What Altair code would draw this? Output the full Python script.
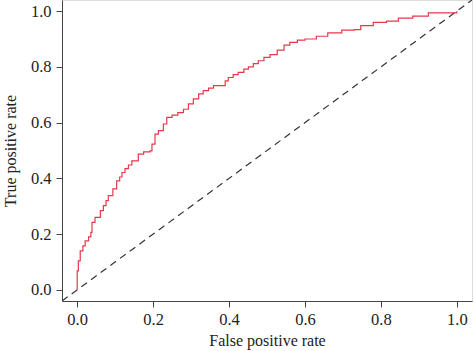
import altair as alt
import pandas as pd

fpr = [0.000, 0.000, 0.003, 0.008, 0.015, 0.021, 0.030, 0.036, 0.039, 0.047,
       0.061, 0.069, 0.076, 0.082, 0.094, 0.104, 0.112, 0.118, 0.126, 0.135,
       0.144, 0.161, 0.175, 0.192, 0.197, 0.205, 0.214, 0.227, 0.236, 0.250,
       0.265, 0.280, 0.293, 0.306, 0.320, 0.332, 0.346, 0.359, 0.381, 0.390,
       0.398, 0.411, 0.424, 0.439, 0.451, 0.464, 0.477, 0.492, 0.508, 0.527,
       0.545, 0.560, 0.580, 0.600, 0.630, 0.660, 0.697, 0.730, 0.747, 0.780,
       0.815, 0.846, 0.884, 0.925, 0.997, 1.000]
tpr = [0.000, 0.068, 0.104, 0.140, 0.158, 0.176, 0.190, 0.206, 0.242, 0.260,
       0.284, 0.302, 0.320, 0.338, 0.362, 0.391, 0.405, 0.421, 0.435, 0.448,
       0.463, 0.487, 0.495, 0.499, 0.523, 0.559, 0.571, 0.595, 0.619, 0.627,
       0.636, 0.648, 0.667, 0.685, 0.703, 0.715, 0.724, 0.733, 0.733, 0.750,
       0.762, 0.772, 0.780, 0.792, 0.800, 0.812, 0.822, 0.834, 0.844, 0.860,
       0.878, 0.888, 0.896, 0.900, 0.910, 0.922, 0.932, 0.934, 0.948, 0.960,
       0.964, 0.975, 0.982, 0.994, 0.994, 1.000]
diag = [-0.04, 1.04]
ticks = [0.0, 0.2, 0.4, 0.6, 0.8, 1.0]

roc = pd.DataFrame({"fpr": fpr, "tpr": tpr})
ddf = pd.DataFrame({"fpr": diag, "tpr": diag})

FONT = "Liberation Serif"
xs = alt.Scale(domain=[-0.04, 1.04], nice=False, zero=False)
ys = alt.Scale(domain=[-0.04, 1.04], nice=False, zero=False)

xax = alt.Axis(values=ticks, format=".1f", title="False positive rate", grid=False,
               domainColor="#444", tickColor="#444", tickSize=6, labelPadding=4,
               labelFont=FONT, titleFont=FONT, labelFontSize=16.5, titleFontSize=16,
               labelColor="#222", titleColor="#222", titleFontWeight="normal",
               titlePadding=5, labelFlush=False)
yax = alt.Axis(values=ticks, format=".1f", title="True positive rate", grid=False,
               domainColor="#444", tickColor="#444", tickSize=6, labelPadding=5,
               labelFont=FONT, titleFont=FONT, labelFontSize=16.5, titleFontSize=16,
               labelColor="#222", titleColor="#222", titleFontWeight="normal",
               titlePadding=12, labelFlush=False)

line = alt.Chart(roc).mark_line(color="#e23a4b", strokeWidth=1.2,
                                interpolate="step-after", clip=True).encode(
    x=alt.X("fpr:Q", scale=xs, axis=xax),
    y=alt.Y("tpr:Q", scale=ys, axis=yax),
)
dash = alt.Chart(ddf).mark_line(color="#333", strokeWidth=1.2,
                                strokeDash=[7, 5], clip=True).encode(
    x=alt.X("fpr:Q", scale=xs),
    y=alt.Y("tpr:Q", scale=ys),
)

chart = alt.layer(dash, line).properties(
    width=410, height=301,
    autosize=alt.AutoSizeParams(type="none"),
    padding={"left": 62, "top": 0, "right": 2, "bottom": 50},
).configure_view(stroke=None).configure(background="white")

chart.save("out.html", embed_options={"renderer": "svg", "actions": False})
